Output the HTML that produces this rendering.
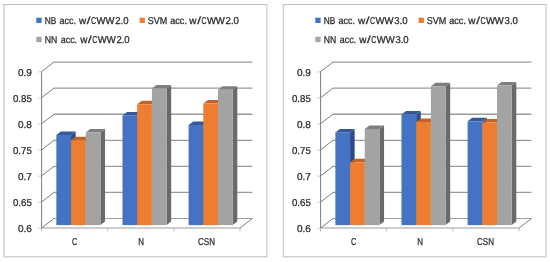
<!DOCTYPE html>
<html lang="en"><head><meta charset="utf-8"><title>Accuracy charts</title>
<style>
html,body{margin:0;padding:0;background:#fff;}
body{width:550px;height:262px;overflow:hidden;}
svg{display:block;font-family:"Liberation Sans",sans-serif;text-rendering:geometricPrecision;}
</style></head><body>
<svg width="550" height="262" viewBox="0 0 550 262">
<rect width="550" height="262" fill="#fff"/>
<rect x="4.0" y="4.5" width="262.8" height="252.2" fill="#fff"/><line x1="3.4" y1="4.5" x2="267.40000000000003" y2="4.5" stroke="#bcbcbc" stroke-width="1"/><line x1="3.4" y1="256.7" x2="267.40000000000003" y2="256.7" stroke="#d0d0d0" stroke-width="1.4"/><line x1="4.0" y1="4.5" x2="4.0" y2="256.7" stroke="#cacaca" stroke-width="1.3"/><line x1="266.8" y1="4.5" x2="266.8" y2="256.7" stroke="#d4d4d4" stroke-width="1.4"/>
<g transform="translate(0,0)">
<rect x="36.3" y="17.7" width="5.3" height="5.3" fill="#4472c4"/>
<text y="23.6" font-size="10.0" fill="#2c2c2c" stroke="#2c2c2c" stroke-width="0.28"><tspan x="44.8" textLength="11.59" lengthAdjust="spacingAndGlyphs">NB</tspan> <tspan x="59.5" textLength="16.39" lengthAdjust="spacingAndGlyphs">acc.</tspan> <tspan x="78.95" textLength="7.22" lengthAdjust="spacingAndGlyphs">w</tspan><tspan x="86.8" textLength="3.67" lengthAdjust="spacingAndGlyphs">/</tspan><tspan x="91.1" textLength="5.12" lengthAdjust="spacingAndGlyphs">C</tspan><tspan x="96.5" textLength="17.98" lengthAdjust="spacingAndGlyphs">WW</tspan><tspan x="115.2" textLength="13.3" lengthAdjust="spacingAndGlyphs">2.0</tspan></text>
<rect x="139.6" y="17.7" width="5.3" height="5.3" fill="#ed7d31"/>
<text y="23.6" font-size="10.0" fill="#2c2c2c" stroke="#2c2c2c" stroke-width="0.28"><tspan x="147.8" textLength="19.52" lengthAdjust="spacingAndGlyphs">SVM</tspan> <tspan x="170.2" textLength="16.79" lengthAdjust="spacingAndGlyphs">acc.</tspan> <tspan x="189.35" textLength="7.22" lengthAdjust="spacingAndGlyphs">w</tspan><tspan x="197.2" textLength="3.67" lengthAdjust="spacingAndGlyphs">/</tspan><tspan x="201.5" textLength="5.12" lengthAdjust="spacingAndGlyphs">C</tspan><tspan x="206.9" textLength="17.98" lengthAdjust="spacingAndGlyphs">WW</tspan><tspan x="225.6" textLength="13.3" lengthAdjust="spacingAndGlyphs">2.0</tspan></text>
<rect x="36.3" y="36.8" width="5.3" height="5.3" fill="#a5a5a5"/>
<text y="42.8" font-size="10.0" fill="#2c2c2c" stroke="#2c2c2c" stroke-width="0.28"><tspan x="44.8" textLength="12.49" lengthAdjust="spacingAndGlyphs">NN</tspan> <tspan x="60.7" textLength="16.39" lengthAdjust="spacingAndGlyphs">acc.</tspan> <tspan x="80.15" textLength="7.22" lengthAdjust="spacingAndGlyphs">w</tspan><tspan x="88.0" textLength="3.67" lengthAdjust="spacingAndGlyphs">/</tspan><tspan x="92.3" textLength="5.12" lengthAdjust="spacingAndGlyphs">C</tspan><tspan x="97.7" textLength="17.98" lengthAdjust="spacingAndGlyphs">WW</tspan><tspan x="116.4" textLength="13.3" lengthAdjust="spacingAndGlyphs">2.0</tspan></text>
<line x1="53.6" y1="62.10" x2="252.4" y2="62.10" stroke="#9a9a9a" stroke-width="1.3"/>
<line x1="41.6" y1="71.60" x2="54.0" y2="62.10" stroke="#7c7c7c" stroke-width="1"/>
<line x1="38" y1="71.90" x2="41.6" y2="71.90" stroke="#cfcfcf" stroke-width="1"/>
<text y="75.7" font-size="10.0" fill="#2c2c2c" stroke="#2c2c2c" stroke-width="0.28"><tspan x="17.9" textLength="13.9" lengthAdjust="spacingAndGlyphs">0.9</tspan></text>
<line x1="53.6" y1="88.17" x2="252.4" y2="88.17" stroke="#9a9a9a" stroke-width="1.3"/>
<line x1="41.6" y1="97.67" x2="54.0" y2="88.17" stroke="#7c7c7c" stroke-width="1"/>
<line x1="38" y1="97.97" x2="41.6" y2="97.97" stroke="#cfcfcf" stroke-width="1"/>
<text y="101.77" font-size="10.0" fill="#2c2c2c" stroke="#2c2c2c" stroke-width="0.28"><tspan x="13.0" textLength="18.81" lengthAdjust="spacingAndGlyphs">0.85</tspan></text>
<line x1="53.6" y1="114.24" x2="252.4" y2="114.24" stroke="#9a9a9a" stroke-width="1.3"/>
<line x1="41.6" y1="123.74" x2="54.0" y2="114.24" stroke="#7c7c7c" stroke-width="1"/>
<line x1="38" y1="124.04" x2="41.6" y2="124.04" stroke="#cfcfcf" stroke-width="1"/>
<text y="127.84" font-size="10.0" fill="#2c2c2c" stroke="#2c2c2c" stroke-width="0.28"><tspan x="17.9" textLength="13.9" lengthAdjust="spacingAndGlyphs">0.8</tspan></text>
<line x1="53.6" y1="140.31" x2="252.4" y2="140.31" stroke="#9a9a9a" stroke-width="1.3"/>
<line x1="41.6" y1="149.81" x2="54.0" y2="140.31" stroke="#7c7c7c" stroke-width="1"/>
<line x1="38" y1="150.11" x2="41.6" y2="150.11" stroke="#cfcfcf" stroke-width="1"/>
<text y="153.91" font-size="10.0" fill="#2c2c2c" stroke="#2c2c2c" stroke-width="0.28"><tspan x="13.0" textLength="18.81" lengthAdjust="spacingAndGlyphs">0.75</tspan></text>
<line x1="53.6" y1="166.38" x2="252.4" y2="166.38" stroke="#9a9a9a" stroke-width="1.3"/>
<line x1="41.6" y1="175.88" x2="54.0" y2="166.38" stroke="#7c7c7c" stroke-width="1"/>
<line x1="38" y1="176.18" x2="41.6" y2="176.18" stroke="#cfcfcf" stroke-width="1"/>
<text y="179.98" font-size="10.0" fill="#2c2c2c" stroke="#2c2c2c" stroke-width="0.28"><tspan x="17.9" textLength="13.9" lengthAdjust="spacingAndGlyphs">0.7</tspan></text>
<line x1="53.6" y1="192.45" x2="252.4" y2="192.45" stroke="#9a9a9a" stroke-width="1.3"/>
<line x1="41.6" y1="201.95" x2="54.0" y2="192.45" stroke="#7c7c7c" stroke-width="1"/>
<line x1="38" y1="202.25" x2="41.6" y2="202.25" stroke="#cfcfcf" stroke-width="1"/>
<text y="206.05" font-size="10.0" fill="#2c2c2c" stroke="#2c2c2c" stroke-width="0.28"><tspan x="13.0" textLength="18.81" lengthAdjust="spacingAndGlyphs">0.65</tspan></text>
<line x1="38" y1="228.32" x2="41.6" y2="228.32" stroke="#cfcfcf" stroke-width="1"/>
<text y="232.12" font-size="10.0" fill="#2c2c2c" stroke="#2c2c2c" stroke-width="0.28"><tspan x="17.9" textLength="13.9" lengthAdjust="spacingAndGlyphs">0.6</tspan></text>
<polygon points="41.6,228.02 54.0,218.52 252.4,218.52 240.0,228.02" fill="#fff"/>
<line x1="53.6" y1="218.52" x2="252.4" y2="218.52" stroke="#a0a0a0" stroke-width="1"/>
<line x1="41.6" y1="228.02" x2="54.0" y2="218.52" stroke="#7c7c7c" stroke-width="1"/>
<line x1="240.0" y1="228.02" x2="252.4" y2="218.52" stroke="#7c7c7c" stroke-width="1"/>
<line x1="41.1" y1="228.02" x2="240.4" y2="228.02" stroke="#9c9c9c" stroke-width="1.15"/>
<line x1="41.6" y1="71.3" x2="41.6" y2="228.02" stroke="#7c7c7c" stroke-width="1"/>
<line x1="41.60" y1="228.02" x2="41.60" y2="231.42" stroke="#b4b4b4" stroke-width="0.9"/>
<line x1="107.73" y1="228.02" x2="107.73" y2="231.42" stroke="#b4b4b4" stroke-width="0.9"/>
<line x1="173.86" y1="228.02" x2="173.86" y2="231.42" stroke="#b4b4b4" stroke-width="0.9"/>
<line x1="239.99" y1="228.02" x2="239.99" y2="231.42" stroke="#b4b4b4" stroke-width="0.9"/>
<polygon points="71.05,135.00 75.65,131.50 75.65,221.60 71.05,225.10" fill="#2c4b86"/>
<polygon points="56.35,135.00 60.95,131.50 75.65,131.50 71.05,135.00" fill="#35589a"/>
<rect x="56.35" y="135.00" width="14.75" height="90.10" fill="#4472c4"/>
<polygon points="85.75,140.30 90.35,136.80 90.35,221.60 85.75,225.10" fill="#a85520"/>
<polygon points="71.05,140.30 75.65,136.80 90.35,136.80 85.75,140.30" fill="#c0642a"/>
<rect x="71.05" y="140.30" width="14.75" height="84.80" fill="#ed7d31"/>
<polygon points="100.45,132.50 105.05,129.00 105.05,221.60 100.45,225.10" fill="#6a6a6a"/>
<polygon points="85.75,132.50 90.35,129.00 105.05,129.00 100.45,132.50" fill="#7e7e7e"/>
<rect x="85.75" y="132.50" width="14.75" height="92.60" fill="#a3a3a3"/>
<polygon points="137.18,115.40 141.78,111.90 141.78,221.60 137.18,225.10" fill="#2c4b86"/>
<polygon points="122.48,115.40 127.08,111.90 141.78,111.90 137.18,115.40" fill="#35589a"/>
<rect x="122.48" y="115.40" width="14.75" height="109.70" fill="#4472c4"/>
<polygon points="151.88,104.30 156.48,100.80 156.48,221.60 151.88,225.10" fill="#a85520"/>
<polygon points="137.18,104.30 141.78,100.80 156.48,100.80 151.88,104.30" fill="#c0642a"/>
<rect x="137.18" y="104.30" width="14.75" height="120.80" fill="#ed7d31"/>
<polygon points="166.58,88.60 171.18,85.10 171.18,221.60 166.58,225.10" fill="#6a6a6a"/>
<polygon points="151.88,88.60 156.48,85.10 171.18,85.10 166.58,88.60" fill="#7e7e7e"/>
<rect x="151.88" y="88.60" width="14.75" height="136.50" fill="#a3a3a3"/>
<polygon points="203.31,125.00 207.91,121.50 207.91,221.60 203.31,225.10" fill="#2c4b86"/>
<polygon points="188.61,125.00 193.21,121.50 207.91,121.50 203.31,125.00" fill="#35589a"/>
<rect x="188.61" y="125.00" width="14.75" height="100.10" fill="#4472c4"/>
<polygon points="218.01,103.60 222.61,100.10 222.61,221.60 218.01,225.10" fill="#a85520"/>
<polygon points="203.31,103.60 207.91,100.10 222.61,100.10 218.01,103.60" fill="#c0642a"/>
<rect x="203.31" y="103.60" width="14.75" height="121.50" fill="#ed7d31"/>
<polygon points="232.71,89.80 237.31,86.30 237.31,221.60 232.71,225.10" fill="#6a6a6a"/>
<polygon points="218.01,89.80 222.61,86.30 237.31,86.30 232.71,89.80" fill="#7e7e7e"/>
<rect x="218.01" y="89.80" width="14.75" height="135.30" fill="#a3a3a3"/>
<text y="245.2" font-size="10.0" fill="#2c2c2c" stroke="#2c2c2c" stroke-width="0.28"><tspan x="72.1" textLength="5.32" lengthAdjust="spacingAndGlyphs">C</tspan></text>
<text y="245.2" font-size="10.0" fill="#2c2c2c" stroke="#2c2c2c" stroke-width="0.28"><tspan x="138.2" textLength="5.72" lengthAdjust="spacingAndGlyphs">N</tspan></text>
<text y="245.2" font-size="10.0" fill="#2c2c2c" stroke="#2c2c2c" stroke-width="0.28"><tspan x="198.0" textLength="17.01" lengthAdjust="spacingAndGlyphs">CSN</tspan></text>
</g>
<rect x="283.5" y="4.5" width="262.5" height="252.2" fill="#fff"/><line x1="282.9" y1="4.5" x2="546.6" y2="4.5" stroke="#bcbcbc" stroke-width="1"/><line x1="282.9" y1="256.7" x2="546.6" y2="256.7" stroke="#d0d0d0" stroke-width="1.4"/><line x1="283.5" y1="4.5" x2="283.5" y2="256.7" stroke="#cacaca" stroke-width="1.3"/><line x1="546.0" y1="4.5" x2="546.0" y2="256.7" stroke="#d4d4d4" stroke-width="1.4"/>
<g transform="translate(279,0)">
<rect x="36.3" y="17.7" width="5.3" height="5.3" fill="#4472c4"/>
<text y="23.6" font-size="10.0" fill="#2c2c2c" stroke="#2c2c2c" stroke-width="0.28"><tspan x="44.8" textLength="11.59" lengthAdjust="spacingAndGlyphs">NB</tspan> <tspan x="59.5" textLength="16.39" lengthAdjust="spacingAndGlyphs">acc.</tspan> <tspan x="78.95" textLength="7.22" lengthAdjust="spacingAndGlyphs">w</tspan><tspan x="86.8" textLength="3.67" lengthAdjust="spacingAndGlyphs">/</tspan><tspan x="91.1" textLength="5.12" lengthAdjust="spacingAndGlyphs">C</tspan><tspan x="96.5" textLength="17.98" lengthAdjust="spacingAndGlyphs">WW</tspan><tspan x="115.2" textLength="13.3" lengthAdjust="spacingAndGlyphs">3.0</tspan></text>
<rect x="139.6" y="17.7" width="5.3" height="5.3" fill="#ed7d31"/>
<text y="23.6" font-size="10.0" fill="#2c2c2c" stroke="#2c2c2c" stroke-width="0.28"><tspan x="147.8" textLength="19.52" lengthAdjust="spacingAndGlyphs">SVM</tspan> <tspan x="170.2" textLength="16.79" lengthAdjust="spacingAndGlyphs">acc.</tspan> <tspan x="189.35" textLength="7.22" lengthAdjust="spacingAndGlyphs">w</tspan><tspan x="197.2" textLength="3.67" lengthAdjust="spacingAndGlyphs">/</tspan><tspan x="201.5" textLength="5.12" lengthAdjust="spacingAndGlyphs">C</tspan><tspan x="206.9" textLength="17.98" lengthAdjust="spacingAndGlyphs">WW</tspan><tspan x="225.6" textLength="13.3" lengthAdjust="spacingAndGlyphs">3.0</tspan></text>
<rect x="36.3" y="36.8" width="5.3" height="5.3" fill="#a5a5a5"/>
<text y="42.8" font-size="10.0" fill="#2c2c2c" stroke="#2c2c2c" stroke-width="0.28"><tspan x="44.8" textLength="12.49" lengthAdjust="spacingAndGlyphs">NN</tspan> <tspan x="60.7" textLength="16.39" lengthAdjust="spacingAndGlyphs">acc.</tspan> <tspan x="80.15" textLength="7.22" lengthAdjust="spacingAndGlyphs">w</tspan><tspan x="88.0" textLength="3.67" lengthAdjust="spacingAndGlyphs">/</tspan><tspan x="92.3" textLength="5.12" lengthAdjust="spacingAndGlyphs">C</tspan><tspan x="97.7" textLength="17.98" lengthAdjust="spacingAndGlyphs">WW</tspan><tspan x="116.4" textLength="13.3" lengthAdjust="spacingAndGlyphs">3.0</tspan></text>
<line x1="53.6" y1="62.10" x2="252.4" y2="62.10" stroke="#9a9a9a" stroke-width="1.3"/>
<line x1="41.6" y1="71.60" x2="54.0" y2="62.10" stroke="#7c7c7c" stroke-width="1"/>
<line x1="38" y1="71.90" x2="41.6" y2="71.90" stroke="#cfcfcf" stroke-width="1"/>
<text y="75.7" font-size="10.0" fill="#2c2c2c" stroke="#2c2c2c" stroke-width="0.28"><tspan x="17.9" textLength="13.9" lengthAdjust="spacingAndGlyphs">0.9</tspan></text>
<line x1="53.6" y1="88.17" x2="252.4" y2="88.17" stroke="#9a9a9a" stroke-width="1.3"/>
<line x1="41.6" y1="97.67" x2="54.0" y2="88.17" stroke="#7c7c7c" stroke-width="1"/>
<line x1="38" y1="97.97" x2="41.6" y2="97.97" stroke="#cfcfcf" stroke-width="1"/>
<text y="101.77" font-size="10.0" fill="#2c2c2c" stroke="#2c2c2c" stroke-width="0.28"><tspan x="13.0" textLength="18.81" lengthAdjust="spacingAndGlyphs">0.85</tspan></text>
<line x1="53.6" y1="114.24" x2="252.4" y2="114.24" stroke="#9a9a9a" stroke-width="1.3"/>
<line x1="41.6" y1="123.74" x2="54.0" y2="114.24" stroke="#7c7c7c" stroke-width="1"/>
<line x1="38" y1="124.04" x2="41.6" y2="124.04" stroke="#cfcfcf" stroke-width="1"/>
<text y="127.84" font-size="10.0" fill="#2c2c2c" stroke="#2c2c2c" stroke-width="0.28"><tspan x="17.9" textLength="13.9" lengthAdjust="spacingAndGlyphs">0.8</tspan></text>
<line x1="53.6" y1="140.31" x2="252.4" y2="140.31" stroke="#9a9a9a" stroke-width="1.3"/>
<line x1="41.6" y1="149.81" x2="54.0" y2="140.31" stroke="#7c7c7c" stroke-width="1"/>
<line x1="38" y1="150.11" x2="41.6" y2="150.11" stroke="#cfcfcf" stroke-width="1"/>
<text y="153.91" font-size="10.0" fill="#2c2c2c" stroke="#2c2c2c" stroke-width="0.28"><tspan x="13.0" textLength="18.81" lengthAdjust="spacingAndGlyphs">0.75</tspan></text>
<line x1="53.6" y1="166.38" x2="252.4" y2="166.38" stroke="#9a9a9a" stroke-width="1.3"/>
<line x1="41.6" y1="175.88" x2="54.0" y2="166.38" stroke="#7c7c7c" stroke-width="1"/>
<line x1="38" y1="176.18" x2="41.6" y2="176.18" stroke="#cfcfcf" stroke-width="1"/>
<text y="179.98" font-size="10.0" fill="#2c2c2c" stroke="#2c2c2c" stroke-width="0.28"><tspan x="17.9" textLength="13.9" lengthAdjust="spacingAndGlyphs">0.7</tspan></text>
<line x1="53.6" y1="192.45" x2="252.4" y2="192.45" stroke="#9a9a9a" stroke-width="1.3"/>
<line x1="41.6" y1="201.95" x2="54.0" y2="192.45" stroke="#7c7c7c" stroke-width="1"/>
<line x1="38" y1="202.25" x2="41.6" y2="202.25" stroke="#cfcfcf" stroke-width="1"/>
<text y="206.05" font-size="10.0" fill="#2c2c2c" stroke="#2c2c2c" stroke-width="0.28"><tspan x="13.0" textLength="18.81" lengthAdjust="spacingAndGlyphs">0.65</tspan></text>
<line x1="38" y1="228.32" x2="41.6" y2="228.32" stroke="#cfcfcf" stroke-width="1"/>
<text y="232.12" font-size="10.0" fill="#2c2c2c" stroke="#2c2c2c" stroke-width="0.28"><tspan x="17.9" textLength="13.9" lengthAdjust="spacingAndGlyphs">0.6</tspan></text>
<polygon points="41.6,228.02 54.0,218.52 252.4,218.52 240.0,228.02" fill="#fff"/>
<line x1="53.6" y1="218.52" x2="252.4" y2="218.52" stroke="#a0a0a0" stroke-width="1"/>
<line x1="41.6" y1="228.02" x2="54.0" y2="218.52" stroke="#7c7c7c" stroke-width="1"/>
<line x1="240.0" y1="228.02" x2="252.4" y2="218.52" stroke="#7c7c7c" stroke-width="1"/>
<line x1="41.1" y1="228.02" x2="240.4" y2="228.02" stroke="#9c9c9c" stroke-width="1.15"/>
<line x1="41.6" y1="71.3" x2="41.6" y2="228.02" stroke="#7c7c7c" stroke-width="1"/>
<line x1="41.60" y1="228.02" x2="41.60" y2="231.42" stroke="#b4b4b4" stroke-width="0.9"/>
<line x1="107.73" y1="228.02" x2="107.73" y2="231.42" stroke="#b4b4b4" stroke-width="0.9"/>
<line x1="173.86" y1="228.02" x2="173.86" y2="231.42" stroke="#b4b4b4" stroke-width="0.9"/>
<line x1="239.99" y1="228.02" x2="239.99" y2="231.42" stroke="#b4b4b4" stroke-width="0.9"/>
<polygon points="71.05,132.40 75.65,128.90 75.65,221.60 71.05,225.10" fill="#2c4b86"/>
<polygon points="56.35,132.40 60.95,128.90 75.65,128.90 71.05,132.40" fill="#35589a"/>
<rect x="56.35" y="132.40" width="14.75" height="92.70" fill="#4472c4"/>
<polygon points="85.75,162.30 90.35,158.80 90.35,221.60 85.75,225.10" fill="#a85520"/>
<polygon points="71.05,162.30 75.65,158.80 90.35,158.80 85.75,162.30" fill="#c0642a"/>
<rect x="71.05" y="162.30" width="14.75" height="62.80" fill="#ed7d31"/>
<polygon points="100.45,129.00 105.05,125.50 105.05,221.60 100.45,225.10" fill="#6a6a6a"/>
<polygon points="85.75,129.00 90.35,125.50 105.05,125.50 100.45,129.00" fill="#7e7e7e"/>
<rect x="85.75" y="129.00" width="14.75" height="96.10" fill="#a3a3a3"/>
<polygon points="137.18,114.60 141.78,111.10 141.78,221.60 137.18,225.10" fill="#2c4b86"/>
<polygon points="122.48,114.60 127.08,111.10 141.78,111.10 137.18,114.60" fill="#35589a"/>
<rect x="122.48" y="114.60" width="14.75" height="110.50" fill="#4472c4"/>
<polygon points="151.88,121.90 156.48,118.40 156.48,221.60 151.88,225.10" fill="#a85520"/>
<polygon points="137.18,121.90 141.78,118.40 156.48,118.40 151.88,121.90" fill="#c0642a"/>
<rect x="137.18" y="121.90" width="14.75" height="103.20" fill="#ed7d31"/>
<polygon points="166.58,86.20 171.18,82.70 171.18,221.60 166.58,225.10" fill="#6a6a6a"/>
<polygon points="151.88,86.20 156.48,82.70 171.18,82.70 166.58,86.20" fill="#7e7e7e"/>
<rect x="151.88" y="86.20" width="14.75" height="138.90" fill="#a3a3a3"/>
<polygon points="203.31,121.30 207.91,117.80 207.91,221.60 203.31,225.10" fill="#2c4b86"/>
<polygon points="188.61,121.30 193.21,117.80 207.91,117.80 203.31,121.30" fill="#35589a"/>
<rect x="188.61" y="121.30" width="14.75" height="103.80" fill="#4472c4"/>
<polygon points="218.01,122.50 222.61,119.00 222.61,221.60 218.01,225.10" fill="#a85520"/>
<polygon points="203.31,122.50 207.91,119.00 222.61,119.00 218.01,122.50" fill="#c0642a"/>
<rect x="203.31" y="122.50" width="14.75" height="102.60" fill="#ed7d31"/>
<polygon points="232.71,85.50 237.31,82.00 237.31,221.60 232.71,225.10" fill="#6a6a6a"/>
<polygon points="218.01,85.50 222.61,82.00 237.31,82.00 232.71,85.50" fill="#7e7e7e"/>
<rect x="218.01" y="85.50" width="14.75" height="139.60" fill="#a3a3a3"/>
<text y="245.2" font-size="10.0" fill="#2c2c2c" stroke="#2c2c2c" stroke-width="0.28"><tspan x="72.1" textLength="5.32" lengthAdjust="spacingAndGlyphs">C</tspan></text>
<text y="245.2" font-size="10.0" fill="#2c2c2c" stroke="#2c2c2c" stroke-width="0.28"><tspan x="138.2" textLength="5.72" lengthAdjust="spacingAndGlyphs">N</tspan></text>
<text y="245.2" font-size="10.0" fill="#2c2c2c" stroke="#2c2c2c" stroke-width="0.28"><tspan x="198.0" textLength="17.01" lengthAdjust="spacingAndGlyphs">CSN</tspan></text>
</g>
</svg>
</body></html>
